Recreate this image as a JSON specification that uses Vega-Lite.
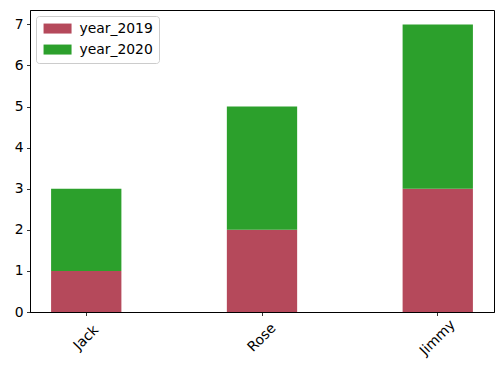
{
  "$schema": "https://vega.github.io/schema/vega-lite/v6.json",
  "width": 464,
  "height": 302,
  "autosize": {"type": "none"},
  "padding": {"left": 30, "top": 10, "right": 9, "bottom": 60},
  "background": "white",
  "config": {
    "font": "DejaVu Sans",
    "view": {"stroke": "black", "strokeWidth": 1},
    "axis": {
      "domainColor": "black",
      "domainWidth": 1,
      "tickColor": "black",
      "tickSize": 3.5,
      "tickWidth": 0.8,
      "labelColor": "black",
      "labelFont": "DejaVu Sans",
      "labelFontSize": 13.9,
      "grid": false,
      "title": null
    }
  },
  "data": {
    "values": [
      {"name": "Jack", "year": "year_2019", "value": 1, "ord": 0},
      {"name": "Rose", "year": "year_2019", "value": 2, "ord": 0},
      {"name": "Jimmy", "year": "year_2019", "value": 3, "ord": 0},
      {"name": "Jack", "year": "year_2020", "value": 2, "ord": 1},
      {"name": "Rose", "year": "year_2020", "value": 3, "ord": 1},
      {"name": "Jimmy", "year": "year_2020", "value": 4, "ord": 1}
    ]
  },
  "mark": {"type": "bar"},
  "encoding": {
    "x": {
      "field": "name",
      "type": "nominal",
      "sort": ["Jack", "Rose", "Jimmy"],
      "scale": {"paddingInner": 0.6, "paddingOuter": 0.12},
      "axis": {
        "labelAngle": -45,
        "labelAlign": "center",
        "labelBaseline": "middle",
        "labelPadding": 22,
        "title": null
      }
    },
    "y": {
      "field": "value",
      "type": "quantitative",
      "stack": "zero",
      "scale": {"domain": [0, 7.35], "nice": false, "zero": true},
      "axis": {"values": [0, 1, 2, 3, 4, 5, 6, 7], "labelPadding": 3.5, "title": null}
    },
    "order": {"field": "ord", "type": "quantitative"},
    "color": {
      "field": "year",
      "type": "nominal",
      "scale": {"domain": ["year_2019", "year_2020"], "range": ["#b5495b", "#2ca02c"]},
      "legend": {
        "title": null,
        "orient": "none",
        "legendX": 6,
        "legendY": 6,
        "padding": 5.6,
        "fillColor": "white",
        "strokeColor": "#cccccc",
        "cornerRadius": 3,
        "symbolType": "M-1,-1H4.6V1H-1Z",
        "symbolSize": 100,
        "symbolStrokeWidth": 0,
        "symbolOpacity": 1,
        "labelFont": "DejaVu Sans",
        "labelFontSize": 13.9,
        "labelColor": "black",
        "labelOffset": 24,
        "rowPadding": 6
      }
    }
  }
}
